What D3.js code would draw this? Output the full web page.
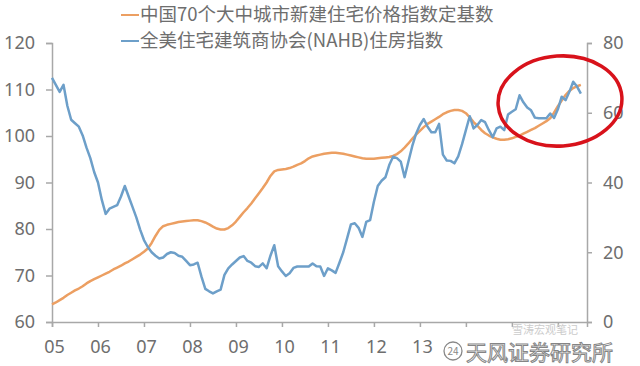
<!DOCTYPE html>
<html>
<head>
<meta charset="utf-8">
<script src="https://cdn.jsdelivr.net/npm/d3@7"></script>
<style>
  html, body { margin: 0; padding: 0; background: #fff; }
  svg { display: block; }
  text { font-family: "Noto Sans CJK SC", "Noto Sans", sans-serif; }
</style>
</head>
<body>
<svg id="chart" width="640" height="366"></svg>
<script>
// ---- data (monthly, starting Jan 2005) ----
const yearLabels = ["05","06","07","08","09","10","11","12","13"];
const leftTicks = [60, 70, 80, 90, 100, 110, 120];
const rightTicks = [0, 20, 40, 60, 80];
const seriesNames = ["中国70个大中城市新建住宅价格指数定基数", "全美住宅建筑商协会(NAHB)住房指数"];

const chinaIndex = [
  63.8,64.2,64.7,65.2,65.8,66.3,66.8,67.2,67.7,68.3,68.8,69.2,
  69.6,70.0,70.4,70.8,71.3,71.7,72.1,72.6,73.0,73.5,74.0,74.5,
  75.1,75.8,77.0,78.5,79.8,80.6,80.9,81.1,81.3,81.5,81.6,81.7,
  81.8,81.9,81.9,81.7,81.4,81.0,80.5,80.1,79.9,79.9,80.2,80.8,
  81.6,82.6,83.6,84.5,85.5,86.6,87.7,88.8,90.0,91.4,92.4,92.7,
  92.8,92.9,93.1,93.4,93.8,94.1,94.6,95.2,95.6,95.8,96.0,96.2,
  96.3,96.4,96.4,96.3,96.2,96.0,95.8,95.6,95.4,95.2,95.1,95.1,
  95.1,95.2,95.3,95.4,95.5,95.7,96.1,96.7,97.5,98.4,99.4,100.3,
  101.1,101.9,102.6,103.1,103.6,104.1,104.7,105.1,105.4,105.6,105.6,105.4,
  104.9,104.0,103.0,102.2,101.3,100.6,100.1,99.7,99.4,99.2,99.2,99.3,
  99.5,99.8,100.1,100.5,100.9,101.3,101.7,102.2,102.7,103.2,103.8,105.0,
  106.4,107.6,108.8,109.7,110.3,110.7,111.0
];

const nahbIndex = [
  70,68,66,68,62,58,57,56,53.5,50,47,43,
  40,35,31,32.5,33,33.5,36,39,36,33,30,26.5,
  23.5,21.5,20,19,18.2,18.5,19.5,20,19.8,19,18.7,17.5,
  16.3,16.5,17,13,9.5,8.8,8.2,8.8,9.3,13.5,15.4,16.5,
  17.5,18.5,18.9,17.5,17,16,15.8,16.8,15.4,19,22,16,
  14.5,13.2,14,15.5,15.9,15.9,15.9,15.9,16.8,16,15.9,13.2,
  15.4,14.8,14.1,17,20,24,28,28.3,27,24.4,28.7,29.2,
  34.5,39,40.5,41.5,45,47.4,47,46,41.5,46,50.4,54,
  56.5,58.2,56,54.4,54.4,56.8,48,46.3,46.2,45.5,47.5,51,
  55,59,55.5,56.5,57.9,57.3,55,53,55.5,56,55,59.5,
  60.3,61,65,63,61.5,60.7,58.6,58.4,58.4,58.4,59.8,58.5,
  61,64.6,63.6,66,68.9,67.5,65.5
];

// ---- layout ----
const svg = d3.select("#chart");
const plotLeft = 52, plotRight = 587, plotTop = 43, plotBottom = 322;
const axisColor = "#a8a8a8";
const textColor = "#6e6e6e";
const orange = "#ec9f62";
const blue = "#6d9fc9";

const x = d3.scaleLinear().domain([0, 139.6]).range([plotLeft, plotRight]);
const yL = d3.scaleLinear().domain([60, 120]).range([plotBottom, plotTop]);
const yR = d3.scaleLinear().domain([0, 80]).range([plotBottom, plotTop]);

// axes
const gL = svg.append("g").attr("transform", `translate(${plotLeft},0)`)
  .call(d3.axisLeft(yL).tickValues(leftTicks).tickSize(6).tickPadding(11).tickFormat(d3.format("d")));
const gR = svg.append("g").attr("transform", `translate(${plotRight},0)`)
  .call(d3.axisRight(yR).tickValues(rightTicks).tickSize(5).tickPadding(11).tickFormat(d3.format("d")));
const xTickVals = d3.range(0, 12).map(i => i * 12);
const gX = svg.append("g").attr("transform", `translate(0,${plotBottom})`)
  .call(d3.axisBottom(x).tickValues(xTickVals).tickSize(5).tickPadding(13)
    .tickFormat((d, i) => yearLabels[i] !== undefined ? yearLabels[i] : ""));

[gL, gR, gX].forEach(g => {
  g.selectAll("path.domain").attr("stroke", axisColor).attr("stroke-width", 1.5);
  g.selectAll(".tick line").attr("stroke", axisColor).attr("stroke-width", 1.5);
  g.selectAll(".tick text").attr("fill", textColor).style("font-size", "18px")
    .style("font-family", "'Noto Sans', 'Open Sans', sans-serif");
});
gX.selectAll(".tick text").attr("dx", 2);

// lines
const lineL = d3.line().x((d, i) => x(i)).y(d => yL(d)).curve(d3.curveLinear);
const lineR = d3.line().x((d, i) => x(i)).y(d => yR(d)).curve(d3.curveLinear);

svg.append("path").datum(chinaIndex).attr("d", lineL)
  .attr("fill", "none").attr("stroke", orange).attr("stroke-width", 2.5)
  .attr("stroke-linejoin", "round");
svg.append("path").datum(nahbIndex).attr("d", lineR)
  .attr("fill", "none").attr("stroke", blue).attr("stroke-width", 2.5)
  .attr("stroke-linejoin", "round");

// legend
const legend = svg.append("g");
[[orange, 15], [blue, 41]].forEach(([c, ly], i) => {
  legend.append("line").attr("x1", 121).attr("x2", 139).attr("y1", ly).attr("y2", ly)
    .attr("stroke", c).attr("stroke-width", 2);
  legend.append("text").attr("x", 140).attr("y", ly).attr("dy", "0.35em")
    .attr("fill", textColor).style("font-size", "18.5px").text(seriesNames[i]);
});

// red ellipse annotation
svg.append("ellipse").attr("cx", 560).attr("cy", 101).attr("rx", 62).attr("ry", 45)
  .attr("transform", "rotate(-4,560,101)")
  .attr("fill", "none").attr("stroke", "#d8121b").attr("stroke-width", 3.5);

// watermark
const wm = svg.append("g");
wm.append("text").attr("x", 512).attr("y", 330).attr("dy", "0.35em")
  .attr("fill", "#cccccc").style("font-size", "11px").text("雪涛宏观笔记");
wm.append("circle").attr("cx", 453).attr("cy", 351).attr("r", 9)
  .attr("fill", "#fff").attr("stroke", "#888").attr("stroke-width", 1.3);
wm.append("text").attr("x", 453).attr("y", 351).attr("dy", "0.35em").attr("text-anchor", "middle")
  .attr("fill", "#888").style("font-size", "10px").text("24");
wm.append("text").attr("x", 466).attr("y", 353).attr("dy", "0.35em")
  .attr("fill", "#fff").attr("stroke", "#858585").attr("stroke-width", 1)
  .style("font-size", "21px").style("letter-spacing", "0px").text("天风证券研究所");
</script>
</body>
</html>
